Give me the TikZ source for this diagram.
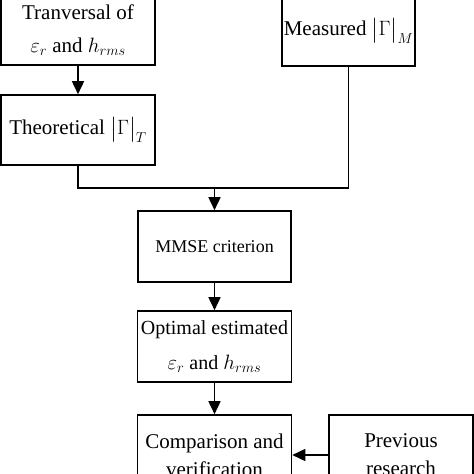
\documentclass[tikz,border=0pt]{standalone}
\usepackage{fontspec}
\setmainfont{Liberation Serif}
\usepackage{amsmath}
\usetikzlibrary{arrows.meta}

\begin{document}
\begin{tikzpicture}[x=1pt, y=1pt, node distance={100pt}, line width=1.6pt, >={Triangle[length=13pt,width=12pt]},
        main/.style = {draw, rectangle, align=center, inner sep=1pt, font=\fontsize{21}{25}\selectfont}]
            \useasboundingbox (0,0) rectangle (474,-474);
            \clip (0,0) rectangle (474,-474);
            \node[main, minimum width=154pt, minimum height=70pt] (trav) at (78,-30) {Tranversal of\\[8pt]$\varepsilon_r$ and $h_{rms}$};
            \node[main, minimum width=154pt, minimum height=70pt] (theo) [below of = trav] {Theoretical $\bigl|\Gamma\bigr|_T$};
            \node[main, minimum width=133pt, minimum height=70pt] (meas) at (348.5,-31) {Measured $\bigl|\Gamma\bigr|_M$};
            \node[main, minimum width=153pt, minimum height=71pt, font=\fontsize{18}{22}\selectfont] (mmse) at (214.5,-246.5) {MMSE criterion};
            \node[main, minimum width=154pt, minimum height=71pt, font=\fontsize{20}{24}\selectfont] (opt) [below of = mmse] {Optimal estimated\\[11pt]$\varepsilon_r$ and $h_{rms}$};
            \node[main, minimum width=154pt, minimum height=80pt, node distance={108.5pt}] (comp) [below of = opt] {Comparison and\\[3pt]verification};
            \node[main, minimum width=144pt, minimum height=80pt, node distance={186.5pt}] (prev) [right of = comp] {Previous\\[3pt]research};
            \coordinate (join) at (214.5,-188);
            \draw[->] (trav) -- (theo);
            \draw (theo) |- (join);
            \draw (meas) |- (join);
            \draw[->] (join) -- (mmse);
            \draw[->] (mmse) -- (opt);
            \draw[->] (opt) -- (comp);
            \draw[->] (prev) -- (comp);
        \end{tikzpicture}
\end{document}
